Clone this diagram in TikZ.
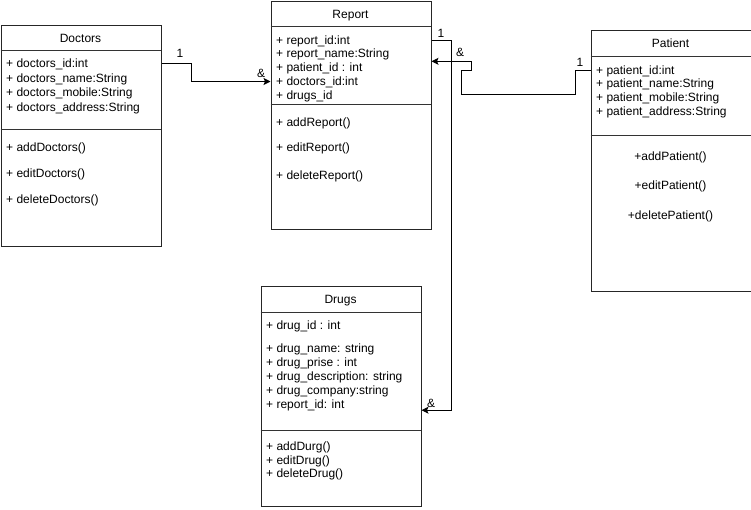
\documentclass[tikz,border=0pt]{standalone}
\usepackage{fontspec}
\setmainfont{Liberation Sans}
\usetikzlibrary{arrows.meta}

\begin{document}
\begin{tikzpicture}[x=1pt,y=-1pt]
  \fontsize{12}{14}\selectfont
  \tikzset{
    member/.style={anchor=west,inner sep=0pt,text height=10pt,text depth=2pt},
    method/.style={anchor=center,inner sep=0pt,text height=10pt,text depth=2pt},
    mult/.style={inner sep=0pt,text height=10pt,text depth=2pt},
    link/.style={line width=1pt,-{Stealth[length=7pt,width=7pt,inset=1.5pt]}},
  }
  % name, x, y, width, height, header line, member line, title
  \def\umlclass#1#2#3#4#5#6#7#8{
    \node[rectangle,draw=black!85,line width=1pt,anchor=north west,minimum width = #4pt,minimum height = #5pt,inner sep=0pt] (#1) at (#2,#3){};
    \node[method] (#1title) at (#2+#4/2,#3+13){#8};
    \draw[black!80,line width=1pt] (#2,#3+#6) -- (#2+#4,#3+#6);
    \draw[black!80,line width=1pt] (#2,#3+#7) -- (#2+#4,#3+#7);
  }

  \useasboundingbox (0,0) rectangle (751,509);

  %DOCTORS
  \umlclass{doctors}{0.5}{25}{160}{221}{25}{104}{Doctors}
  \node[member] (docid) at (6,63){+ doctors\_id:int};
  \node[member] (docname) at (6,78){+ doctors\_name:String};
  \node[member] (docmobile) at (6,92.5){+ doctors\_mobile:String};
  \node[member] (docaddress) at (6,107){+ doctors\_address:String};
  \node[member] (docadd) at (6,147){+ addDoctors()};
  \node[member] (docedit) at (6,173){+ editDoctors()};
  \node[member] (docdelete) at (6,199){+ deleteDoctors()};

  %REPORT
  \umlclass{report}{270.5}{1}{160}{228}{25}{103}{Report}
  \node[member] (repid) at (276,40){+ report\_id:int};
  \node[member] (repname) at (276,53.5){+ report\_name:String};
  \node[member] (reppat) at (276,67.5){+ patient\_id : int};
  \node[member] (repdoc) at (276,81.5){+ doctors\_id:int};
  \node[member] (repdrug) at (276,95.5){+ drugs\_id};
  \node[member] (repadd) at (276,122){+ addReport()};
  \node[member] (repedit) at (276,147){+ editReport()};
  \node[member] (repdelete) at (276,175){+ deleteReport()};

  %PATIENT
  \umlclass{patient}{590.5}{30}{160}{261}{26}{105}{Patient}
  \node[member] (patid) at (596,70){+ patient\_id:int};
  \node[member] (patname) at (596,83.5){+ patient\_name:String};
  \node[member] (patmobile) at (596,97.5){+ patient\_mobile:String};
  \node[member] (pataddress) at (596,111.5){+ patient\_address:String};
  \node[method] (patadd) at (670.5,156){+addPatient()};
  \node[method] (patedit) at (670.5,185.5){+editPatient()};
  \node[method] (patdelete) at (670.5,215){+deletePatient()};

  %DRUGS
  \umlclass{drugs}{260.5}{286}{160}{220}{26}{144}{Drugs}
  \node[member] (drugid) at (266,325){+ drug\_id : int};
  \node[member] (drugname) at (266,348){+ drug\_name: string};
  \node[member] (drugprise) at (266,362){+ drug\_prise : int};
  \node[member] (drugdesc) at (266,376){+ drug\_description: string};
  \node[member] (drugcomp) at (266,390){+ drug\_company:string};
  \node[member] (drugrep) at (266,404){+ report\_id: int};
  \node[member] (drugadd) at (266,446.5){+ addDurg()};
  \node[member] (drugedit) at (266,460){+ editDrug()};
  \node[member] (drugdelete) at (266,473.5){+ deleteDrug()};

  %LINKS
  \draw[link] (docid -| doctors.east) -- ++(30,0) |- (repdoc -| report.west);
  \node[mult] (docone) at (180,53){1};
  \node[mult] (docmany) at (261,73){\&};

  \draw[link] (repid -| report.east) -- ++(20,0) |- (drugrep.south -| drugs.east);
  \node[mult] (repone) at (441,33){1};
  \node[mult] (repmany) at (431,403){\&};

  \draw[link] (patid -| patient.west) -- ++(-15,0) -- ++(0,24) -- ++(-114,0) -- ++(0,-24) -- ++(10,0) |- (reppat.north -| report.east);
  \node[mult] (patone) at (580,62){1};
  \node[mult] (patmany) at (460,52){\&};

\end{tikzpicture}
\end{document}
